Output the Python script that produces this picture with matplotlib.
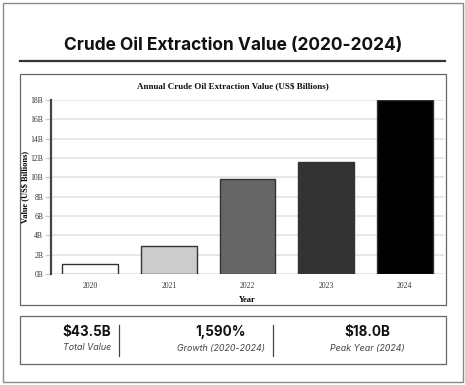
import numpy as np
import matplotlib
matplotlib.use('Agg')
import matplotlib.pyplot as plt
from matplotlib.patches import Rectangle
from matplotlib.lines import Line2D

W, H = 465, 385

years = ['2020', '2021', '2022', '2023', '2024']
values = [1.065, 2.9, 9.85, 11.55, 18.0]
bar_colors = ['#ffffff', '#cccccc', '#666666', '#333333', '#000000']
yticks = [0, 2, 4, 6, 8, 10, 12, 14, 16, 18]
ytick_labels = [f'{v}B' for v in yticks]

stat_values = ['$43.5B', '1,590%', '$18.0B']
stat_labels = ['Total Value', 'Growth (2020-2024)', 'Peak Year (2024)']

SANS = ['Inter', 'DejaVu Sans']
SERIF = ['Liberation Serif', 'DejaVu Serif']


def fx(px):
    return px / W


def fy(py):
    return 1 - py / H


fig = plt.figure(figsize=(W / 100, H / 100), dpi=100)
fig.patch.set_facecolor('white')


def box(x0, y0, x1, y1, ec, lw):
    fig.add_artist(Rectangle((fx(x0), fy(y1)), fx(x1) - fx(x0), fy(y0) - fy(y1),
                             transform=fig.transFigure, fill=False, ec=ec, lw=lw))


# outer frame
box(2.5, 2.5, 462.5, 382, '#8a8a8a', 1.0)

# main title + rule
fig.text(fx(233), fy(45), 'Crude Oil Extraction Value (2020-2024)', ha='center', va='center',
         fontsize=12.5, fontweight='bold', family=SANS, color='#111111')
fig.add_artist(Line2D([fx(20), fx(445)], [fy(61), fy(61)], transform=fig.transFigure,
                      color='#333333', lw=1.6))

# chart box
box(20, 73.5, 445.5, 304.5, '#666666', 0.9)

ax = fig.add_axes([fx(51), fy(274), fx(444) - fx(51), fy(100) - fy(274)])
x = np.arange(len(years))
ax.bar(x, values, width=0.71, color=bar_colors, edgecolor='#333333', linewidth=1.0, zorder=3)
ax.set_xlim(-0.5, len(years) - 0.5)
ax.set_ylim(0, 18)
ax.set_yticks(yticks)
ax.set_yticklabels(ytick_labels)
ax.set_xticks(x)
ax.set_xticklabels(years)
ax.grid(axis='y', color='#e3e3e3', lw=1.2, zorder=0)
ax.tick_params(axis='y', length=4, width=1.0, color='#d0d0d0', labelsize=5.5,
               labelcolor='#333333', pad=1.5)
ax.tick_params(axis='x', length=0, labelsize=5.5, labelcolor='#333333', pad=6)
for lab in ax.get_xticklabels() + ax.get_yticklabels():
    lab.set_family(SERIF)
for s in ['top', 'right', 'bottom']:
    ax.spines[s].set_visible(False)
ax.spines['left'].set_color('#444444')
ax.spines['left'].set_linewidth(1.6)
ax.set_xlabel('Year', family=SERIF, fontweight='bold', fontsize=6, labelpad=4)
ax.set_ylabel('Value (US$ Billions)', family=SERIF, fontweight='bold', fontsize=6, va='center')
ax.yaxis.set_label_coords((25 - 51) / (444 - 51), 0.5)
fig.text(fx(233), fy(86), 'Annual Crude Oil Extraction Value (US$ Billions)', ha='center',
         va='center', family=SERIF, fontweight='bold', fontsize=6.5, color='#111111')

# stats box
box(20, 316, 445.5, 364, '#666666', 0.9)
centers = [87, 221, 367]
for cx, v, lab in zip(centers, stat_values, stat_labels):
    fig.text(fx(cx), fy(332), v, ha='center', va='center', family=SANS,
             fontweight='bold', fontsize=9.7, color='#111111')
    fig.text(fx(cx), fy(348), lab, ha='center', va='center', family=SANS,
             style='italic', fontsize=6.4, color='#444444')
for sx in [119, 273]:
    fig.add_artist(Line2D([fx(sx), fx(sx)], [fy(325), fy(356)], transform=fig.transFigure,
                          color='#444444', lw=0.9))

fig.savefig('out.png', dpi=100)
